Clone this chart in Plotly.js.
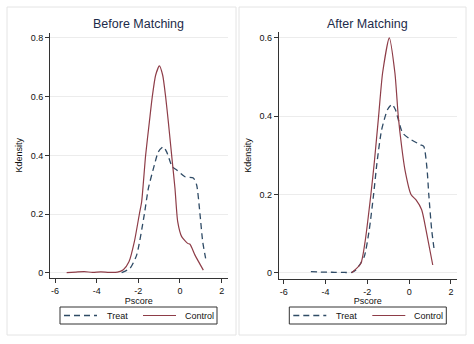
<!DOCTYPE html>
<html>
<head>
<meta charset="utf-8">
<script src="https://cdn.plot.ly/plotly-3.0.1.min.js"></script>
<style>
html,body{margin:0;padding:0;background:#fff;}
#chart{width:474px;height:344px;}
</style>
</head>
<body>
<div id="chart"></div>
<script>
// Before Matching
const beforeTreatX = [-2.8, -2.4, -2.08, -1.71, -1.52, -1.23, -1.04, -0.80, -0.64, -0.37, -0.16, 0.24, 0.64, 0.80, 0.96, 1.09, 1.23];
const beforeTreatY = [0.0, 0.015, 0.06, 0.2, 0.287, 0.367, 0.412, 0.429, 0.412, 0.361, 0.35, 0.327, 0.323, 0.299, 0.2, 0.106, 0.049];
const beforeControlX = [-5.44, -5.0, -4.6, -4.2, -3.8, -3.4, -3.0, -2.72, -2.45, -2.19, -1.95, -1.84, -1.65, -1.47, -1.33, -1.17, -0.99, -0.83, -0.69, -0.56, -0.40, -0.24, -0.11, 0.08, 0.37, 0.48, 0.72, 1.12];
const beforeControlY = [0.0, 0.002, 0.004, 0.001, 0.003, 0.001, 0.002, 0.01, 0.037, 0.106, 0.2, 0.242, 0.4, 0.514, 0.6, 0.673, 0.705, 0.673, 0.6, 0.514, 0.4, 0.287, 0.174, 0.123, 0.10, 0.097, 0.06, 0.009];
// After Matching
const afterTreatX = [-4.7, -4.3, -3.9, -3.5, -3.1, -2.75, -2.55, -2.15, -1.91, -1.70, -1.54, -1.32, -1.03, -0.82, -0.66, -0.31, 0.09, 0.54, 0.70, 0.86, 0.94, 1.08, 1.21];
const afterTreatY = [0.003, 0.002, 0.002, 0.001, 0.001, 0.001, 0.007, 0.041, 0.109, 0.2, 0.28, 0.364, 0.417, 0.43, 0.417, 0.357, 0.34, 0.327, 0.323, 0.263, 0.2, 0.109, 0.054];
const afterControlX = [-2.75, -2.31, -2.12, -1.83, -1.67, -1.46, -1.27, -0.95, -0.68, -0.52, -0.36, -0.20, 0.09, 0.33, 0.60, 0.81, 1.13];
const afterControlY = [0.0, 0.024, 0.075, 0.2, 0.28, 0.4, 0.51, 0.6, 0.51, 0.4, 0.323, 0.263, 0.2, 0.186, 0.161, 0.109, 0.02];

const xTicks = [-6, -4, -2, 0, 2];
const yTicksBefore = [0, 0.2, 0.4, 0.6, 0.8];
const yTicksAfter = [0, 0.2, 0.4, 0.6];
const seriesNames = ['Treat', 'Control'];
const panelTitles = ['Before Matching', 'After Matching'];

const treatColor = '#2f4b66';
const controlColor = '#8e3d48';
const treatDash = '6px,4px';
const W = 474, H = 344;
const px = v => v / W;
const py = v => 1 - v / H;
const FONT = 'Liberation Sans, Arial, sans-serif';

const traces = [
  {x: beforeTreatX, y: beforeTreatY, name: seriesNames[0], xaxis: 'x', yaxis: 'y',
   mode: 'lines', line: {color: treatColor, width: 1.3, dash: treatDash, shape: 'spline', smoothing: 0.6}},
  {x: beforeControlX, y: beforeControlY, name: seriesNames[1], xaxis: 'x', yaxis: 'y',
   mode: 'lines', line: {color: controlColor, width: 1.2, shape: 'spline', smoothing: 0.6}},
  {x: afterTreatX, y: afterTreatY, name: seriesNames[0], xaxis: 'x2', yaxis: 'y2',
   mode: 'lines', line: {color: treatColor, width: 1.3, dash: treatDash, shape: 'spline', smoothing: 0.6}},
  {x: afterControlX, y: afterControlY, name: seriesNames[1], xaxis: 'x2', yaxis: 'y2',
   mode: 'lines', line: {color: controlColor, width: 1.2, shape: 'spline', smoothing: 0.6}}
];

const tickFont = {family: FONT, size: 9, color: '#111'};
function xAx(domain, anchor) {
  return {domain: domain, anchor: anchor, range: [-6.24, 2.29], tickvals: xTicks, ticktext: xTicks.map(String),
    ticks: 'outside', ticklen: 4, tickcolor: '#333', tickwidth: 1, showline: true, linecolor: '#333', linewidth: 1,
    showgrid: false, zeroline: false, tickfont: tickFont,
    title: {text: 'Pscore', font: tickFont, standoff: 1}};
}
function yAx(domain, anchor, range, ticks) {
  return {domain: domain, anchor: anchor, range: range, tickvals: ticks, ticktext: ticks.map(String),
    ticks: 'outside', ticklen: 4, tickcolor: '#333', tickwidth: 1, showline: true, linecolor: '#333', linewidth: 1,
    showgrid: true, gridcolor: '#ececec', gridwidth: 1, zeroline: false, tickfont: tickFont,
    title: {text: 'Kdensity', font: tickFont, standoff: 6}};
}

// manual legends (one per panel)
const shapes = [
  {type: 'rect', xref: 'paper', yref: 'paper', x0: px(7), x1: px(236), y0: py(335), y1: py(7), line: {color: '#e4e4e4', width: 1}, layer: 'below'},
  {type: 'rect', xref: 'paper', yref: 'paper', x0: px(239), x1: px(466), y0: py(335), y1: py(7), line: {color: '#e4e4e4', width: 1}, layer: 'below'}
];
const annotations = [
  {text: panelTitles[0], xref: 'paper', yref: 'paper', x: px(138), y: py(24), xanchor: 'center', yanchor: 'middle', showarrow: false,
   font: {family: FONT, size: 12.5, color: '#1c2b4a'}},
  {text: panelTitles[1], xref: 'paper', yref: 'paper', x: px(367.7), y: py(24), xanchor: 'center', yanchor: 'middle', showarrow: false,
   font: {family: FONT, size: 12.5, color: '#1c2b4a'}}
];
[60, 289.3].forEach(function (L) {
  const top = 307, bot = 324, mid = 315.5;
  shapes.push({type: 'rect', xref: 'paper', yref: 'paper', x0: px(L), x1: px(L + 157), y0: py(bot), y1: py(top),
    line: {color: '#333', width: 1}, fillcolor: '#fff'});
  shapes.push({type: 'line', xref: 'paper', yref: 'paper', x0: px(L + 4), x1: px(L + 37), y0: py(mid), y1: py(mid),
    line: {color: treatColor, width: 1.3, dash: treatDash}});
  shapes.push({type: 'line', xref: 'paper', yref: 'paper', x0: px(L + 83), x1: px(L + 116), y0: py(mid), y1: py(mid),
    line: {color: controlColor, width: 1.2}});
  annotations.push({text: seriesNames[0], xref: 'paper', yref: 'paper', x: px(L + 45), y: py(mid), xanchor: 'left', yanchor: 'middle',
    showarrow: false, font: {family: FONT, size: 9, color: '#111'}});
  annotations.push({text: seriesNames[1], xref: 'paper', yref: 'paper', x: px(L + 123), y: py(mid), xanchor: 'left', yanchor: 'middle',
    showarrow: false, font: {family: FONT, size: 9, color: '#111'}});
});

const layout = {
  width: W, height: H,
  margin: {l: 0, r: 0, t: 0, b: 0},
  paper_bgcolor: '#fff', plot_bgcolor: '#fff',
  showlegend: false,
  xaxis: xAx([px(50), px(227.7)], 'y'),
  yaxis: yAx([py(278), py(32.7)], 'x', [-0.018, 0.818], yTicksBefore),
  xaxis2: xAx([px(278.7), px(457)], 'y2'),
  yaxis2: yAx([py(278.7), py(32.3)], 'x2', [-0.015, 0.614], yTicksAfter),
  shapes: shapes,
  annotations: annotations
};

Plotly.newPlot('chart', traces, layout, {displayModeBar: false, staticPlot: true});
</script>
</body>
</html>
